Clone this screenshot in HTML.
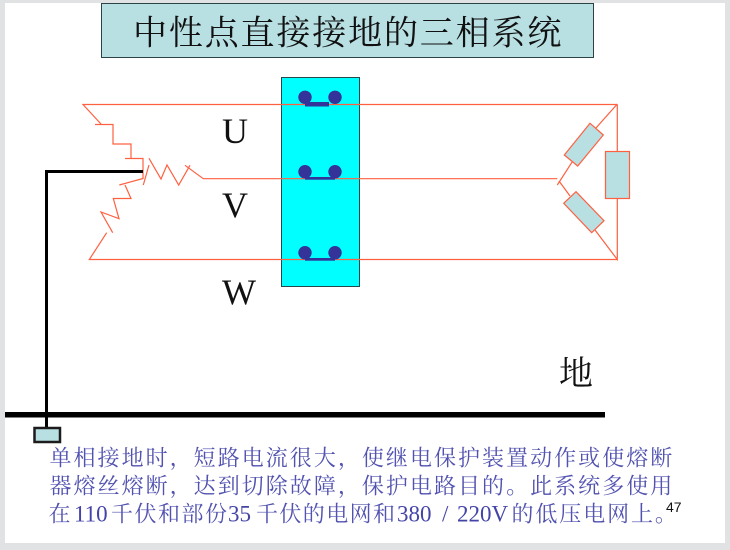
<!DOCTYPE html>
<html>
<head>
<meta charset="utf-8">
<style>
html,body{margin:0;padding:0;background:#e0e2e4;}
svg{display:block;}
.cn{font-family:"Liberation Serif","Noto Serif CJK SC",serif;}
</style>
</head>
<body>
<svg width="730" height="550" viewBox="0 0 730 550" xmlns="http://www.w3.org/2000/svg">
<rect width="730" height="550" fill="#e0e2e4"/>
<rect x="5" y="3" width="720" height="540" fill="#ffffff"/>

<rect x="101.5" y="3.5" width="492" height="54" fill="#b8dfe2" stroke="#2c4446" stroke-width="1"/>
<text class="cn" x="133" y="44.500" font-size="34" fill="#111" letter-spacing="1.850">中性点直接接地的三相系统</text>

<rect x="281.5" y="77.5" width="78" height="209" fill="#00ffff" stroke="#24484c" stroke-width="1"/>

<g fill="none" stroke="#ff6040" stroke-width="1.2">
<path d="M617 104.500H83L101 124M95 124.500H113V144H131V158.500M125 158.500H143V178.500L119.300 185M125 185L131 198.500H113.300L119 218.700L101 212L112.700 232.700M106.700 232.700L89.300 259.500H617"/>
<path d="M143.300 185L149 165M149 158.300L161 179L167 165L178.700 185L190 165.300M185 165.300L203.300 178.700H557.300"/>
<path d="M617.300 104L593.300 131M572.300 161.700L557.300 185M559 181L570 196M595 230L617.300 259.500V104.500"/>
<polygon points="590,123.300 603.300,135 577.700,166 564.300,155" fill="#b8dfe2"/>
<polygon points="576,191.700 604,220.700 591.700,232.700 563.700,203.300" fill="#b8dfe2"/>
<rect x="605.500" y="151.500" width="24" height="47" fill="#b8dfe2"/>
</g>

<g fill="#333399">
<circle cx="305" cy="97.300" r="6.700"/><circle cx="335" cy="97.300" r="6.700"/>
<rect x="305" y="102" width="24" height="4.500"/>
<circle cx="305" cy="171.700" r="6.700"/><circle cx="335" cy="171.700" r="6.700"/>
<rect x="305" y="177" width="30" height="2.700"/>
<circle cx="305" cy="252.700" r="6.700"/><circle cx="335" cy="252.700" r="6.700"/>
<rect x="305" y="258" width="30" height="2.700"/>
</g>

<path d="M143 171.500H46.500V428" fill="none" stroke="#000" stroke-width="3"/>
<rect x="5" y="412" width="600" height="5.500" fill="#000"/>
<rect x="34.500" y="428" width="25.500" height="14" fill="#b8dfe2" stroke="#1c1c1c" stroke-width="2.500"/>

<g font-family="'Liberation Serif',serif" font-size="36" fill="#111">
<text x="222" y="143">U</text>
<text x="222" y="217">V</text>
<text x="222" y="304">W</text>
</g>
<text class="cn" x="559" y="385" font-size="34" fill="#111">地</text>

<g class="cn" font-size="22" fill="#5252b0">
<text x="49.500" y="465.500" letter-spacing="2.030">单相接地时，短路电流很大，使继电保护装置动作或使熔断</text>
<text x="49.500" y="493.500" letter-spacing="2.030">器熔丝熔断，达到切除故障，保护电路目的。此系统多使用</text>
<text y="521.500">
<tspan x="48.500">在</tspan>
<tspan x="74" font-size="23" fill="#4444a8">110</tspan>
<tspan x="111" letter-spacing="1.500">千伏和部份</tspan>
<tspan x="228" font-size="23" fill="#4444a8">35</tspan>
<tspan x="256" letter-spacing="1.400">千伏的电网和</tspan>
<tspan x="397" font-size="23" fill="#4444a8">380</tspan>
<tspan x="442" font-size="23" fill="#4444a8" font-family="'Liberation Serif',serif">/</tspan>
<tspan x="457" font-size="23" fill="#4444a8">220V</tspan>
<tspan x="511.500" letter-spacing="1.900">的低压电网上。</tspan>
</text>
</g>
<text x="666" y="512" font-family="'Liberation Sans',sans-serif" font-size="14" fill="#111">47</text>
</svg>
</body>
</html>
